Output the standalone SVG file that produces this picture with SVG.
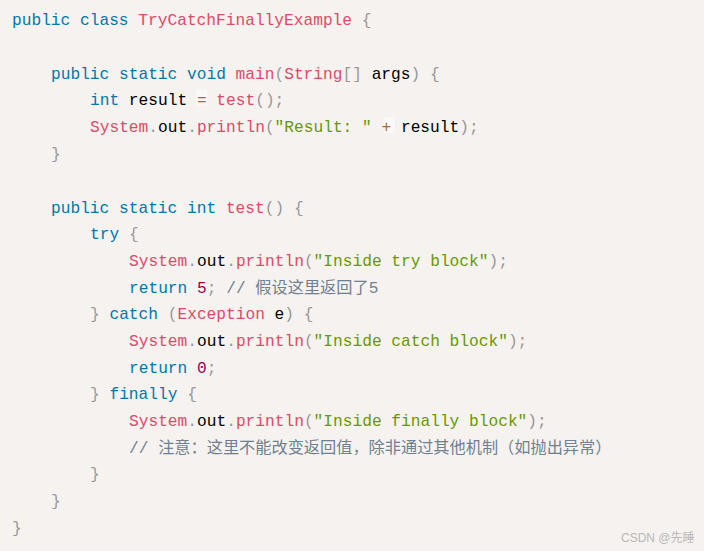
<svg xmlns="http://www.w3.org/2000/svg" width="704" height="551" viewBox="0 0 704 551">
<style>
text{font-family:"Liberation Mono","Noto Sans CJK SC",monospace;font-size:16.2px;fill:#000;white-space:pre}
.k{fill:#0077aa}.c{fill:#dd4a68}.p{fill:#999999}.s{fill:#669900}.o{fill:#9a6e3a}.m{fill:#708090}.n{fill:#990055}
.w{font-family:"Liberation Sans","Noto Sans CJK SC",sans-serif;font-size:12px;fill:#b8b8b8}
</style>
<rect width="704" height="551" fill="#f6f2f0"/>
<rect x="196" y="90" width="11" height="16" fill="#fbf9f7"/>
<rect x="384" y="117" width="11" height="16" fill="#fbf9f7"/>
<g id="code">
<text x="12" y="25" xml:space="preserve"><tspan class="k">public</tspan> <tspan class="k">class</tspan> <tspan class="c">TryCatchFinallyExample</tspan> <tspan class="p">{</tspan></text>
<text x="51" y="79" xml:space="preserve"><tspan class="k">public</tspan> <tspan class="k">static</tspan> <tspan class="k">void</tspan> <tspan class="c">main</tspan><tspan class="p">(</tspan><tspan class="c">String</tspan><tspan class="p">[]</tspan> args<tspan class="p">)</tspan> <tspan class="p">{</tspan></text>
<text x="90" y="105" xml:space="preserve"><tspan class="k">int</tspan> result <tspan class="o">=</tspan> <tspan class="c">test</tspan><tspan class="p">();</tspan></text>
<text x="90" y="132" xml:space="preserve"><tspan class="c">System</tspan><tspan class="p">.</tspan>out<tspan class="p">.</tspan><tspan class="c">println</tspan><tspan class="p">(</tspan><tspan class="s">"Result: "</tspan> <tspan class="o">+</tspan> result<tspan class="p">);</tspan></text>
<text x="51" y="159" class="p">}</text>
<text x="51" y="213" xml:space="preserve"><tspan class="k">public</tspan> <tspan class="k">static</tspan> <tspan class="k">int</tspan> <tspan class="c">test</tspan><tspan class="p">()</tspan> <tspan class="p">{</tspan></text>
<text x="90" y="239" xml:space="preserve"><tspan class="k">try</tspan> <tspan class="p">{</tspan></text>
<text x="129" y="266" xml:space="preserve"><tspan class="c">System</tspan><tspan class="p">.</tspan>out<tspan class="p">.</tspan><tspan class="c">println</tspan><tspan class="p">(</tspan><tspan class="s">"Inside try block"</tspan><tspan class="p">);</tspan></text>
<text x="129" y="293" xml:space="preserve"><tspan class="k">return</tspan> <tspan class="n">5</tspan><tspan class="p">;</tspan> <tspan class="m">// 假设这里返回了5</tspan></text>
<text x="90" y="319" xml:space="preserve"><tspan class="p">}</tspan> <tspan class="k">catch</tspan> <tspan class="p">(</tspan><tspan class="c">Exception</tspan> e<tspan class="p">)</tspan> <tspan class="p">{</tspan></text>
<text x="129" y="346" xml:space="preserve"><tspan class="c">System</tspan><tspan class="p">.</tspan>out<tspan class="p">.</tspan><tspan class="c">println</tspan><tspan class="p">(</tspan><tspan class="s">"Inside catch block"</tspan><tspan class="p">);</tspan></text>
<text x="129" y="373" xml:space="preserve"><tspan class="k">return</tspan> <tspan class="n">0</tspan><tspan class="p">;</tspan></text>
<text x="90" y="399" xml:space="preserve"><tspan class="p">}</tspan> <tspan class="k">finally</tspan> <tspan class="p">{</tspan></text>
<text x="129" y="426" xml:space="preserve"><tspan class="c">System</tspan><tspan class="p">.</tspan>out<tspan class="p">.</tspan><tspan class="c">println</tspan><tspan class="p">(</tspan><tspan class="s">"Inside finally block"</tspan><tspan class="p">);</tspan></text>
<text x="129" y="453" xml:space="preserve" class="m">// 注意：这里不能改变返回值，除非通过其他机制（如抛出异常）</text>
<text x="90" y="479" class="p">}</text>
<text x="51" y="506" class="p">}</text>
<text x="12" y="533" class="p">}</text>
</g>
<text id="watermark" x="621" y="542" class="w">CSDN @先睡</text>
</svg>
